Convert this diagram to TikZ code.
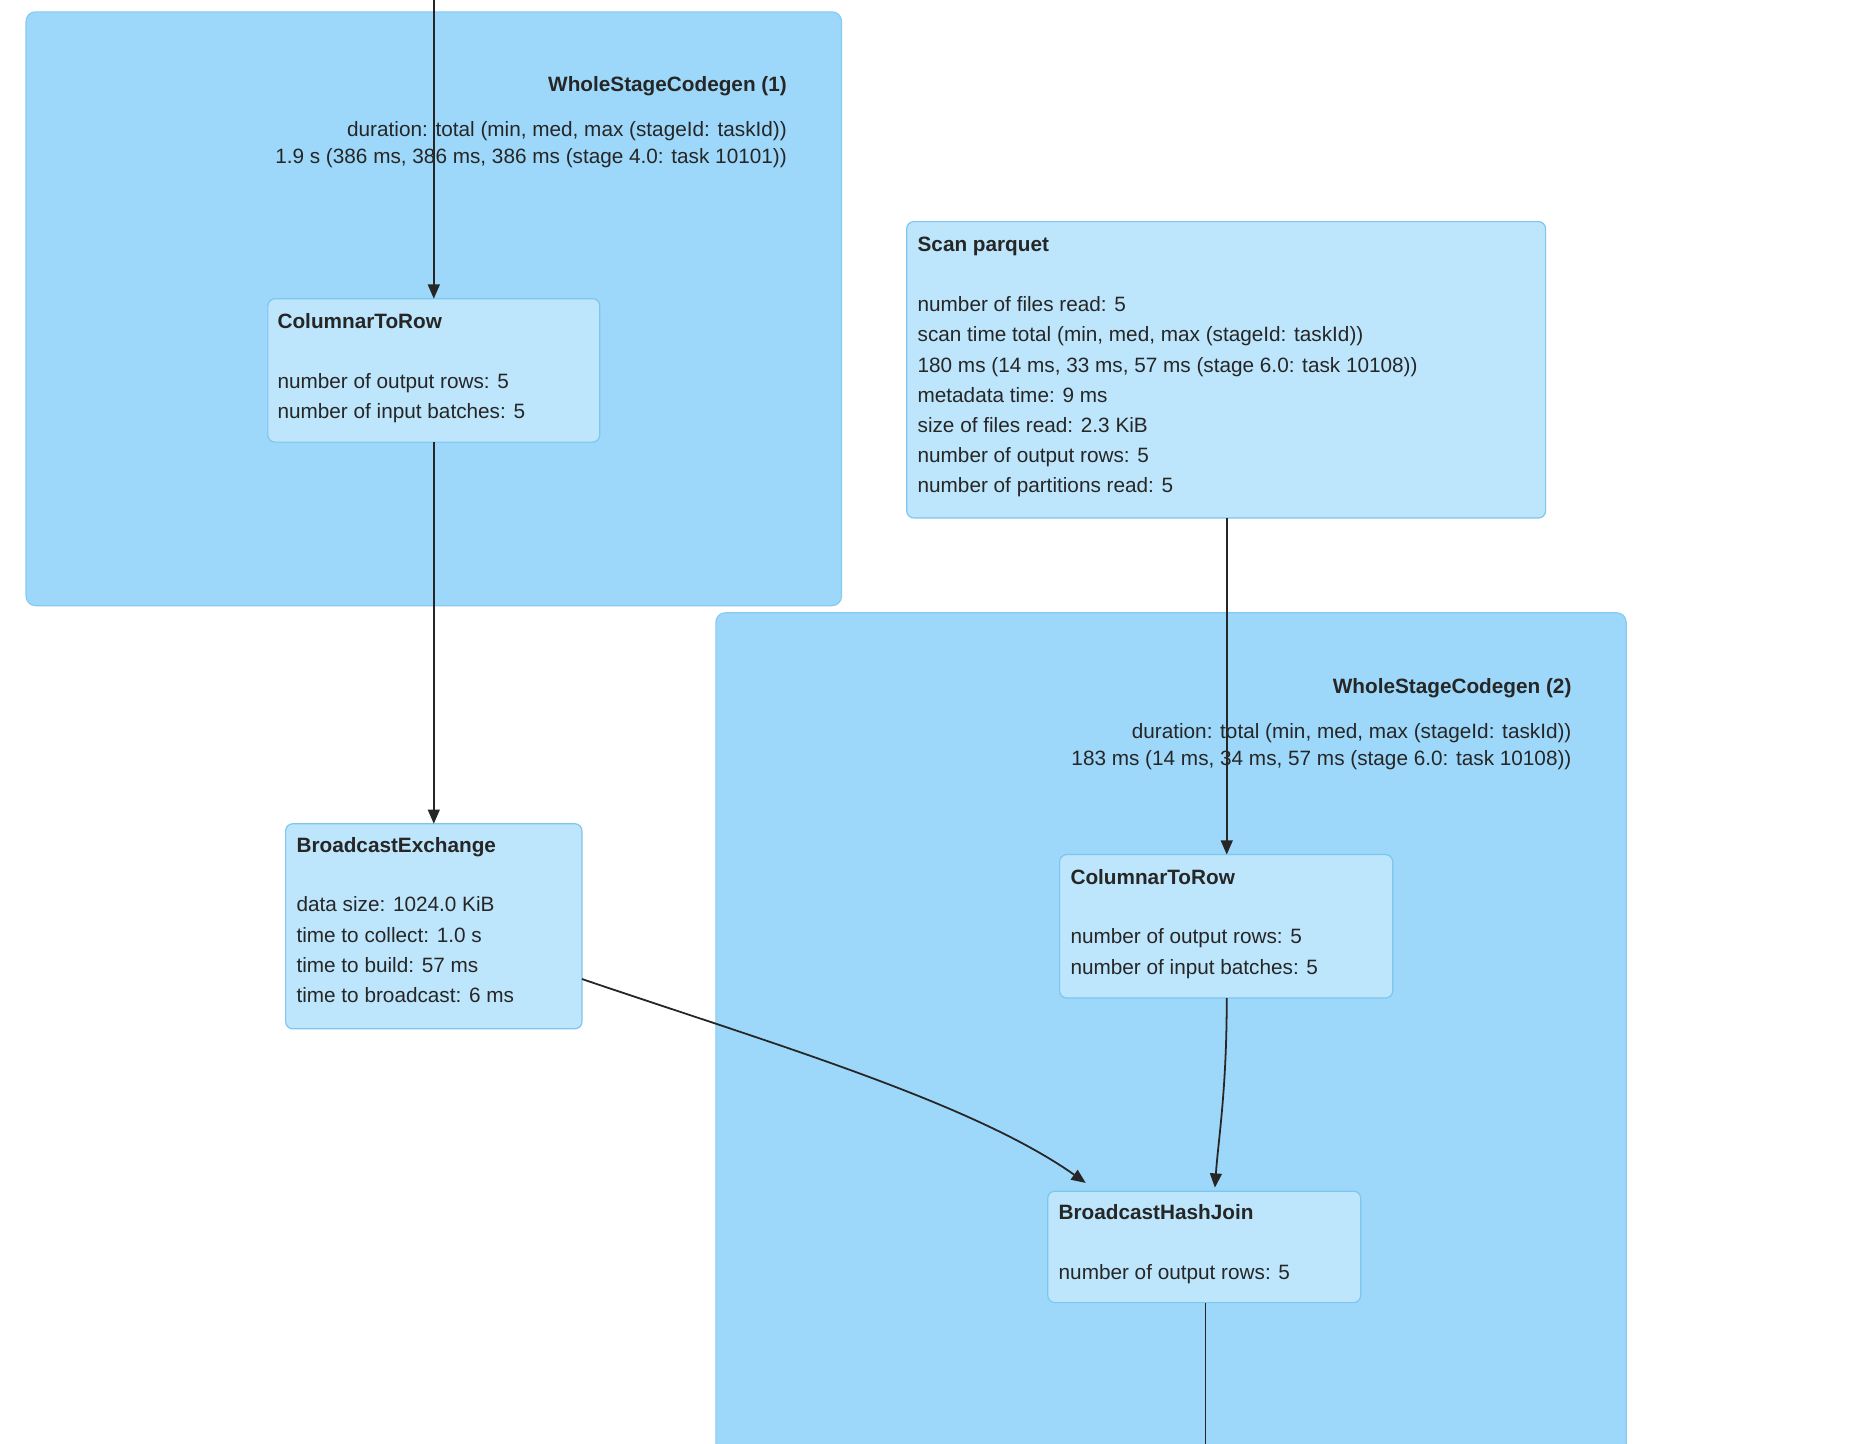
\documentclass[tikz,border=0pt]{standalone}
\usepackage{fontspec}
\setmainfont{Liberation Sans}
\usetikzlibrary{arrows.meta}
\definecolor{clus}{HTML}{9DD8FA}
\definecolor{clusb}{HTML}{86CBF2}
\definecolor{nodef}{HTML}{BDE6FC}
\definecolor{nodeb}{HTML}{7DC6EE}
\begin{document}
\begin{tikzpicture}[x=1pt,y=-1pt,
  cluster/.style={draw=clusb,fill=clus,rounded corners=8pt,line width=1pt},
  box/.style={draw=nodeb,fill=nodef,rounded corners=6pt,line width=1pt},
  txt/.style={font=\fontsize{17.5}{25.5}\selectfont,text=black!85,inner sep=0pt,align=left},
  rtxt/.style={font=\fontsize{17.5}{23}\selectfont,text=black!85,inner sep=0pt,align=right},
  arr/.style={-{Triangle[length=12pt,width=10pt]},line width=1.5pt,black!85}]
\useasboundingbox (0,0) rectangle (1560,1218);
\fill[white] (0,0) rectangle (1560,1218);
% clusters
\draw[cluster] (22,10) rectangle (710,511);
\draw[cluster] (604,517) rectangle (1372,1240);
\node[rtxt,anchor=base east,font=\bfseries\fontsize{17.5}{23}\selectfont] (t1) at (664,77) {WholeStageCodegen (1)};
\node[rtxt,anchor=north east] (d1) at (664,102) {duration: total (min, med, max (stageId: taskId))\\1.9 s (386 ms, 386 ms, 386 ms (stage 4.0: task 10101))};
\node[rtxt,anchor=base east,font=\bfseries\fontsize{17.5}{23}\selectfont] (t2) at (1326,585) {WholeStageCodegen (2)};
\node[rtxt,anchor=north east] (d2) at (1326,610) {duration: total (min, med, max (stageId: taskId))\\183 ms (14 ms, 34 ms, 57 ms (stage 6.0: task 10108))};
% nodes
\draw[box] (226,252) rectangle (506,373); \coordinate (c1n) at (366,252); \coordinate (c1s) at (366,373);
\node[txt,anchor=north west] (c1t) at (234,264) {\textbf{ColumnarToRow}\\[25pt]number of output rows: 5\\number of input batches: 5};
\draw[box] (241,695) rectangle (491,868); \coordinate (bxn) at (366,695); \coordinate (bxe) at (491,826);
\node[txt,anchor=north west] (bxt) at (250,706) {\textbf{BroadcastExchange}\\[25pt]data size: 1024.0 KiB\\time to collect: 1.0 s\\time to build: 57 ms\\time to broadcast: 6 ms};
\draw[box] (765,187) rectangle (1304,437); \coordinate (sps) at (1035,437);
\node[txt,anchor=north west] (spt) at (774,200) {\textbf{Scan parquet}\\[25pt]number of files read: 5\\scan time total (min, med, max (stageId: taskId))\\180 ms (14 ms, 33 ms, 57 ms (stage 6.0: task 10108))\\metadata time: 9 ms\\size of files read: 2.3 KiB\\number of output rows: 5\\number of partitions read: 5};
\draw[box] (894,721) rectangle (1175,842); \coordinate (c2n) at (1035,721); \coordinate (c2s) at (1035,842);
\node[txt,anchor=north west] (c2t) at (903,733) {\textbf{ColumnarToRow}\\[25pt]number of output rows: 5\\number of input batches: 5};
\draw[box] (884,1005) rectangle (1148,1099); \coordinate (bhn) at (1025,1002); \coordinate (bhw) at (916,998); \coordinate (bhs) at (1017,1099);
\node[txt,anchor=north west] (bht) at (893,1016) {\textbf{BroadcastHashJoin}\\[25pt]number of output rows: 5};
\coordinate (top) at (366,-5); \coordinate (bot) at (1017,1225);
% edges
\draw[arr] (top) -- (c1n);
\draw[arr] (c1s) -- (bxn);
\draw[arr] (sps) -- (c2n);
\draw[arr] (c2s) .. controls (1035,920) and (1028,960) .. (bhn);
\draw[arr] (bxe) .. controls (650,880) and (820,930) .. (bhw);
\draw[line width=1.5pt,black!85] (bhs) -- (bot);
\end{tikzpicture}
\end{document}
